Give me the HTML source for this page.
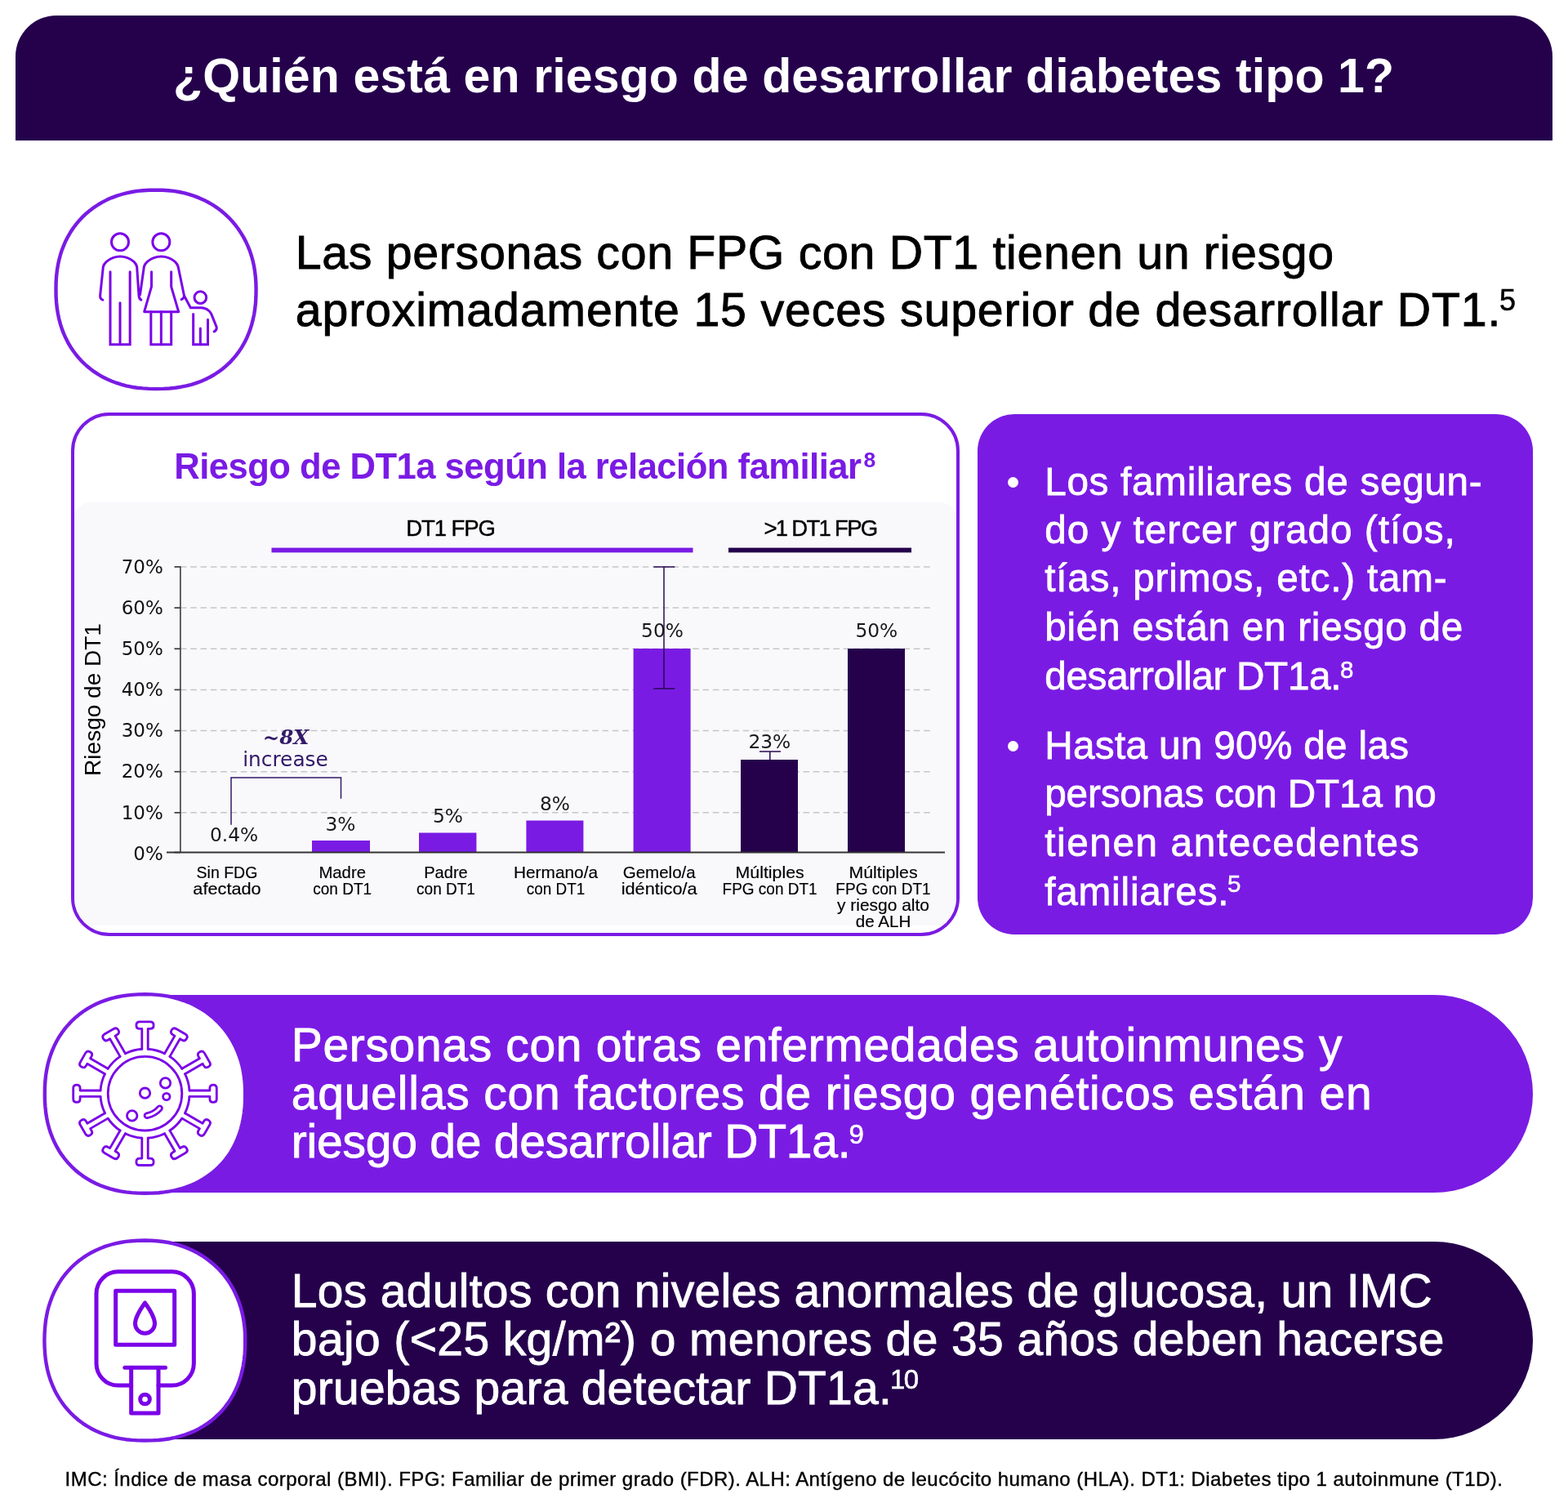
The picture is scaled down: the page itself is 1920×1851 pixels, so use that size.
<!DOCTYPE html>
<html lang="es">
<head>
<meta charset="utf-8">
<title>¿Quién está en riesgo de desarrollar diabetes tipo 1?</title>
<style>
html,body{margin:0;padding:0;background:#fff;}
body{width:1920px;height:1851px;position:relative;overflow:hidden;font-family:"Liberation Sans", Arial, Helvetica, sans-serif;}
#page{position:absolute;left:0;top:0;width:1920px;height:1851px;background:#fff;overflow:hidden;}
.abs{position:absolute;}
.t{position:absolute;white-space:pre;line-height:1;margin:0;padding:0;font-weight:400;vertical-align:baseline;display:block;}
.intro,.box,.band,.foot,.sup{-webkit-text-stroke:0.016em currentColor;}
.sup.b{-webkit-text-stroke:0;}
svg{position:absolute;left:0;top:0;overflow:visible;}
#header{position:absolute;left:19px;top:18.5px;width:1882px;height:153.5px;background:#25014c;border-radius:50px 50px 0 0;}
#chartbox{position:absolute;left:87px;top:505px;width:1088px;height:641px;box-sizing:border-box;border:4px solid #7a1be4;border-radius:47px;background:#fff;overflow:hidden;}
#chartbg{position:absolute;left:0;top:105.5px;width:1080px;height:518.5px;background:#f9f8fb;border-radius:20px 20px 0 0;}
#infobox{position:absolute;left:1196.7px;top:507.2px;width:680.3px;height:636.8px;background:#7a1be4;border-radius:45px;}
.band{position:absolute;}
#band1{left:176px;top:1218.3px;width:1700.9px;height:241.5px;background:#7a1be4;border-radius:0 121px 121px 0;position:absolute;}
#band2{left:176px;top:1519.7px;width:1700.9px;height:242px;background:#25014c;border-radius:0 121px 121px 0;position:absolute;}
.bullet{position:absolute;width:13px;height:13px;border-radius:50%;background:#fff;}
</style>
</head>
<body>
<div id="page">
<div id="header"></div>
<div id="chartbox"><div id="chartbg"></div></div>
<div id="infobox"></div>
<div id="band1"></div>
<div id="band2"></div>
<div class="bullet" style="left:1234.25px;top:584.25px"></div>
<div class="bullet" style="left:1234.25px;top:907px"></div>
<svg width="1920" height="1851" viewBox="0 0 1920 1851">
<path d="M313.6,354.3 L313.4,363.2 L313.0,370.8 L312.2,377.9 L311.2,384.6 L309.8,391.1 L308.2,397.4 L306.3,403.4 L304.1,409.2 L301.7,414.8 L298.9,420.2 L295.9,425.4 L292.6,430.4 L289.0,435.1 L285.2,439.6 L281.2,443.9 L276.9,447.9 L272.3,451.7 L267.6,455.2 L262.6,458.5 L257.4,461.5 L251.9,464.2 L246.3,466.7 L240.4,468.9 L234.3,470.8 L228.1,472.4 L221.5,473.7 L214.7,474.7 L207.6,475.5 L200.0,475.9 L191.0,476.1 L182.4,475.9 L175.0,475.4 L168.0,474.7 L161.2,473.7 L154.7,472.3 L148.5,470.7 L142.4,468.7 L136.5,466.5 L130.8,464.0 L125.4,461.3 L120.1,458.2 L115.1,454.9 L110.3,451.3 L105.7,447.5 L101.3,443.4 L97.2,439.1 L93.4,434.5 L89.8,429.7 L86.4,424.7 L83.3,419.5 L80.6,414.1 L78.0,408.4 L75.8,402.6 L73.9,396.6 L72.2,390.3 L70.9,383.9 L69.8,377.2 L69.1,370.2 L68.6,362.8 L68.5,354.3 L68.6,345.9 L69.1,338.5 L69.8,331.6 L70.9,324.9 L72.2,318.5 L73.9,312.2 L75.8,306.2 L78.1,300.4 L80.6,294.7 L83.4,289.3 L86.5,284.0 L89.8,279.0 L93.5,274.2 L97.3,269.7 L101.4,265.3 L105.8,261.2 L110.4,257.4 L115.2,253.8 L120.3,250.5 L125.6,247.4 L131.0,244.6 L136.7,242.1 L142.6,239.9 L148.7,238.0 L154.9,236.3 L161.4,235.0 L168.1,233.9 L175.1,233.2 L182.5,232.7 L191.0,232.6 L198.9,232.7 L206.0,233.2 L212.8,233.9 L219.4,235.0 L225.9,236.4 L232.1,238.1 L238.2,240.1 L244.1,242.4 L249.8,244.9 L255.3,247.8 L260.6,250.9 L265.8,254.3 L270.7,258.0 L275.3,261.9 L279.8,266.1 L284.0,270.5 L287.9,275.2 L291.6,280.0 L295.0,285.1 L298.2,290.4 L301.1,295.9 L303.7,301.6 L306.0,307.4 L308.0,313.5 L309.7,319.7 L311.1,326.1 L312.1,332.6 L312.9,339.4 L313.4,346.5Z" fill="#fff" stroke="#7a1be4" stroke-width="4.4" stroke-linejoin="round"/>
<g transform="translate(40,210) scale(0.1666667)" fill="none" stroke="#7a02e8" stroke-width="18" stroke-linecap="round" stroke-linejoin="miter">
<circle cx="642" cy="518" r="63"/>
<path d="M515,943 Q493,935 496,908 L518,700 Q522,680 542,662 Q588,624 642,624 Q698,624 744,662 Q762,680 766,700 L780,908 Q781,935 797,943"/>
<path d="M570,737 L570,1270 L715,1270 L715,737"/>
<path d="M642,964 L642,1270"/>
<circle cx="944" cy="518" r="63"/>
<path d="M789,905 L818,700 Q822,680 842,662 Q888,624 944,624 Q1000,624 1046,662 Q1064,680 1069,700 L1113,912 L1160,1000 L1238,1000 Q1288,1002 1312,1045 L1350,1140 Q1356,1166 1333,1176"/>
<path d="M1113,912 Q1112,932 1093,940"/>
<path d="M873,737 L873,845 L820,1030 L1072,1030 L1018,845 L1018,737" stroke-linejoin="round"/>
<path d="M869,1030 L869,1270 L1018,1270 L1018,1030"/>
<path d="M944,1030 L944,1270"/>
<circle cx="1232" cy="925" r="44"/>
<path d="M1180,1047 L1180,1270 L1287,1270 L1287,1087"/>
<path d="M1232,1152 L1232,1270"/>
</g>
<path d="M300.2,1339.0 L300.1,1347.9 L299.7,1355.5 L298.9,1362.6 L297.9,1369.3 L296.5,1375.8 L294.9,1382.1 L293.0,1388.1 L290.8,1393.9 L288.3,1399.5 L285.6,1404.9 L282.6,1410.1 L279.3,1415.1 L275.7,1419.8 L271.9,1424.3 L267.8,1428.6 L263.5,1432.6 L259.0,1436.4 L254.2,1439.9 L249.2,1443.2 L244.0,1446.2 L238.5,1448.9 L232.9,1451.4 L227.0,1453.6 L220.9,1455.5 L214.6,1457.1 L208.1,1458.4 L201.3,1459.4 L194.1,1460.2 L186.5,1460.6 L177.5,1460.8 L168.9,1460.6 L161.5,1460.1 L154.4,1459.4 L147.7,1458.4 L141.2,1457.0 L134.9,1455.4 L128.8,1453.4 L122.9,1451.2 L117.2,1448.7 L111.8,1446.0 L106.5,1442.9 L101.4,1439.6 L96.6,1436.0 L92.0,1432.2 L87.7,1428.1 L83.6,1423.8 L79.7,1419.2 L76.1,1414.4 L72.7,1409.4 L69.7,1404.2 L66.9,1398.8 L64.4,1393.1 L62.1,1387.3 L60.2,1381.3 L58.5,1375.0 L57.2,1368.6 L56.1,1361.9 L55.4,1354.9 L54.9,1347.5 L54.8,1339.0 L54.9,1330.6 L55.4,1323.2 L56.1,1316.3 L57.2,1309.6 L58.5,1303.2 L60.2,1296.9 L62.2,1290.9 L64.4,1285.1 L66.9,1279.4 L69.7,1274.0 L72.8,1268.7 L76.2,1263.7 L79.8,1258.9 L83.7,1254.4 L87.8,1250.0 L92.2,1245.9 L96.8,1242.1 L101.6,1238.5 L106.7,1235.2 L111.9,1232.1 L117.4,1229.3 L123.1,1226.8 L129.0,1224.6 L135.1,1222.7 L141.4,1221.0 L147.9,1219.7 L154.6,1218.6 L161.6,1217.9 L169.0,1217.4 L177.5,1217.2 L185.4,1217.4 L192.5,1217.9 L199.4,1218.6 L206.0,1219.7 L212.4,1221.1 L218.7,1222.8 L224.8,1224.8 L230.7,1227.1 L236.4,1229.6 L241.9,1232.5 L247.2,1235.6 L252.4,1239.0 L257.3,1242.7 L262.0,1246.6 L266.4,1250.8 L270.6,1255.2 L274.6,1259.9 L278.3,1264.7 L281.7,1269.8 L284.9,1275.1 L287.8,1280.6 L290.3,1286.3 L292.6,1292.1 L294.7,1298.2 L296.4,1304.4 L297.8,1310.8 L298.8,1317.3 L299.6,1324.1 L300.1,1331.2Z" fill="#fff" stroke="#7a1be4" stroke-width="4.4" stroke-linejoin="round"/>
<g transform="translate(177.5,1338.7)" fill="none" stroke="#7a02e8" stroke-width="2.8" stroke-linecap="round" stroke-linejoin="round">
<circle r="45.3"/>
<path d="M54.47,3.70 A54.6,54.6 0 0 1 49.03,24.03"/>
<path d="M45.33,30.44 A54.6,54.6 0 0 1 30.44,45.33"/>
<path d="M24.03,49.03 A54.6,54.6 0 0 1 3.70,54.47"/>
<path d="M-3.70,54.47 A54.6,54.6 0 0 1 -24.03,49.03"/>
<path d="M-30.44,45.33 A54.6,54.6 0 0 1 -45.33,30.44"/>
<path d="M-49.03,24.03 A54.6,54.6 0 0 1 -54.47,3.70"/>
<path d="M-54.47,-3.70 A54.6,54.6 0 0 1 -49.03,-24.03"/>
<path d="M-45.33,-30.44 A54.6,54.6 0 0 1 -30.44,-45.33"/>
<path d="M-24.03,-49.03 A54.6,54.6 0 0 1 -3.70,-54.47"/>
<path d="M3.70,-54.47 A54.6,54.6 0 0 1 24.03,-49.03"/>
<path d="M30.44,-45.33 A54.6,54.6 0 0 1 45.33,-30.44"/>
<path d="M49.03,-24.03 A54.6,54.6 0 0 1 54.47,-3.70"/>
<path transform="rotate(0)" d="M-3.7,-54.47 L-3.7,-79.4 L-6.5,-79.4 Q-10.6,-79.4 -10.6,-83.5 L-10.6,-83.7 Q-10.6,-87.8 -6.5,-87.8 L6.5,-87.8 Q10.6,-87.8 10.6,-83.7 L10.6,-83.5 Q10.6,-79.4 6.5,-79.4 L3.7,-79.4 L3.7,-54.47"/>
<path transform="rotate(30)" d="M-3.7,-54.47 L-3.7,-79.4 L-6.5,-79.4 Q-10.6,-79.4 -10.6,-83.5 L-10.6,-83.7 Q-10.6,-87.8 -6.5,-87.8 L6.5,-87.8 Q10.6,-87.8 10.6,-83.7 L10.6,-83.5 Q10.6,-79.4 6.5,-79.4 L3.7,-79.4 L3.7,-54.47"/>
<path transform="rotate(60)" d="M-3.7,-54.47 L-3.7,-79.4 L-6.5,-79.4 Q-10.6,-79.4 -10.6,-83.5 L-10.6,-83.7 Q-10.6,-87.8 -6.5,-87.8 L6.5,-87.8 Q10.6,-87.8 10.6,-83.7 L10.6,-83.5 Q10.6,-79.4 6.5,-79.4 L3.7,-79.4 L3.7,-54.47"/>
<path transform="rotate(90)" d="M-3.7,-54.47 L-3.7,-79.4 L-6.5,-79.4 Q-10.6,-79.4 -10.6,-83.5 L-10.6,-83.7 Q-10.6,-87.8 -6.5,-87.8 L6.5,-87.8 Q10.6,-87.8 10.6,-83.7 L10.6,-83.5 Q10.6,-79.4 6.5,-79.4 L3.7,-79.4 L3.7,-54.47"/>
<path transform="rotate(120)" d="M-3.7,-54.47 L-3.7,-79.4 L-6.5,-79.4 Q-10.6,-79.4 -10.6,-83.5 L-10.6,-83.7 Q-10.6,-87.8 -6.5,-87.8 L6.5,-87.8 Q10.6,-87.8 10.6,-83.7 L10.6,-83.5 Q10.6,-79.4 6.5,-79.4 L3.7,-79.4 L3.7,-54.47"/>
<path transform="rotate(150)" d="M-3.7,-54.47 L-3.7,-79.4 L-6.5,-79.4 Q-10.6,-79.4 -10.6,-83.5 L-10.6,-83.7 Q-10.6,-87.8 -6.5,-87.8 L6.5,-87.8 Q10.6,-87.8 10.6,-83.7 L10.6,-83.5 Q10.6,-79.4 6.5,-79.4 L3.7,-79.4 L3.7,-54.47"/>
<path transform="rotate(180)" d="M-3.7,-54.47 L-3.7,-79.4 L-6.5,-79.4 Q-10.6,-79.4 -10.6,-83.5 L-10.6,-83.7 Q-10.6,-87.8 -6.5,-87.8 L6.5,-87.8 Q10.6,-87.8 10.6,-83.7 L10.6,-83.5 Q10.6,-79.4 6.5,-79.4 L3.7,-79.4 L3.7,-54.47"/>
<path transform="rotate(210)" d="M-3.7,-54.47 L-3.7,-79.4 L-6.5,-79.4 Q-10.6,-79.4 -10.6,-83.5 L-10.6,-83.7 Q-10.6,-87.8 -6.5,-87.8 L6.5,-87.8 Q10.6,-87.8 10.6,-83.7 L10.6,-83.5 Q10.6,-79.4 6.5,-79.4 L3.7,-79.4 L3.7,-54.47"/>
<path transform="rotate(240)" d="M-3.7,-54.47 L-3.7,-79.4 L-6.5,-79.4 Q-10.6,-79.4 -10.6,-83.5 L-10.6,-83.7 Q-10.6,-87.8 -6.5,-87.8 L6.5,-87.8 Q10.6,-87.8 10.6,-83.7 L10.6,-83.5 Q10.6,-79.4 6.5,-79.4 L3.7,-79.4 L3.7,-54.47"/>
<path transform="rotate(270)" d="M-3.7,-54.47 L-3.7,-79.4 L-6.5,-79.4 Q-10.6,-79.4 -10.6,-83.5 L-10.6,-83.7 Q-10.6,-87.8 -6.5,-87.8 L6.5,-87.8 Q10.6,-87.8 10.6,-83.7 L10.6,-83.5 Q10.6,-79.4 6.5,-79.4 L3.7,-79.4 L3.7,-54.47"/>
<path transform="rotate(300)" d="M-3.7,-54.47 L-3.7,-79.4 L-6.5,-79.4 Q-10.6,-79.4 -10.6,-83.5 L-10.6,-83.7 Q-10.6,-87.8 -6.5,-87.8 L6.5,-87.8 Q10.6,-87.8 10.6,-83.7 L10.6,-83.5 Q10.6,-79.4 6.5,-79.4 L3.7,-79.4 L3.7,-54.47"/>
<path transform="rotate(330)" d="M-3.7,-54.47 L-3.7,-79.4 L-6.5,-79.4 Q-10.6,-79.4 -10.6,-83.5 L-10.6,-83.7 Q-10.6,-87.8 -6.5,-87.8 L6.5,-87.8 Q10.6,-87.8 10.6,-83.7 L10.6,-83.5 Q10.6,-79.4 6.5,-79.4 L3.7,-79.4 L3.7,-54.47"/>
<circle cx="25" cy="-12.8" r="6.2"/>
<circle cx="0" cy="-0.5" r="6.2"/>
<circle cx="26.3" cy="3.8" r="4.2"/>
<circle cx="-15.8" cy="27.2" r="6.2"/>
<path d="M2.5,27 Q12,25 18,18" stroke-width="8.6"/>
<path d="M2.5,27 Q12,25 18,18" stroke="#fff" stroke-width="3"/>
</g>
<path d="M300.2,1641.0 L300.1,1650.1 L299.7,1657.7 L298.9,1664.8 L297.9,1671.6 L296.5,1678.1 L294.9,1684.4 L293.0,1690.5 L290.8,1696.3 L288.3,1702.0 L285.6,1707.4 L282.5,1712.6 L279.2,1717.6 L275.7,1722.4 L271.9,1726.9 L267.8,1731.2 L263.5,1735.2 L258.9,1739.1 L254.1,1742.6 L249.1,1745.9 L243.9,1748.9 L238.5,1751.7 L232.8,1754.1 L226.9,1756.3 L220.8,1758.2 L214.5,1759.8 L208.0,1761.2 L201.1,1762.2 L194.0,1763.0 L186.4,1763.4 L177.4,1763.5 L168.7,1763.4 L161.3,1762.9 L154.2,1762.2 L147.5,1761.1 L141.0,1759.8 L134.7,1758.1 L128.6,1756.2 L122.7,1754.0 L117.0,1751.5 L111.5,1748.7 L106.3,1745.6 L101.2,1742.3 L96.4,1738.7 L91.8,1734.8 L87.4,1730.7 L83.3,1726.3 L79.4,1721.8 L75.8,1716.9 L72.5,1711.9 L69.4,1706.7 L66.6,1701.2 L64.1,1695.5 L61.8,1689.6 L59.9,1683.6 L58.2,1677.3 L56.9,1670.8 L55.8,1664.1 L55.1,1657.1 L54.6,1649.6 L54.4,1641.1 L54.6,1632.6 L55.1,1625.2 L55.8,1618.2 L56.9,1611.5 L58.2,1605.0 L59.9,1598.7 L61.9,1592.7 L64.1,1586.8 L66.6,1581.1 L69.5,1575.6 L72.5,1570.4 L75.9,1565.3 L79.5,1560.5 L83.4,1555.9 L87.5,1551.5 L91.9,1547.4 L96.5,1543.5 L101.4,1539.9 L106.4,1536.6 L111.7,1533.5 L117.2,1530.7 L122.9,1528.2 L128.8,1525.9 L134.9,1524.0 L141.2,1522.3 L147.7,1521.0 L154.4,1519.9 L161.4,1519.2 L168.8,1518.7 L177.3,1518.5 L185.3,1518.7 L192.4,1519.2 L199.2,1520.0 L205.9,1521.0 L212.3,1522.4 L218.6,1524.1 L224.7,1526.1 L230.6,1528.4 L236.3,1531.0 L241.8,1533.9 L247.2,1537.0 L252.3,1540.5 L257.2,1544.2 L261.9,1548.1 L266.4,1552.3 L270.6,1556.8 L274.6,1561.4 L278.3,1566.3 L281.7,1571.4 L284.9,1576.8 L287.7,1582.3 L290.3,1588.0 L292.6,1593.9 L294.6,1600.0 L296.3,1606.2 L297.7,1612.6 L298.8,1619.2 L299.6,1626.1 L300.1,1633.2Z" fill="#fff" stroke="#7a1be4" stroke-width="4.4" stroke-linejoin="round"/>
<g transform="translate(30,1495) scale(0.1666667)" fill="none" stroke="#7a02e8" stroke-width="30" stroke-linecap="round" stroke-linejoin="round">
<path d="M784,1206 L688,1206 A160,160 0 0 1 528,1046 L528,531 A160,160 0 0 1 688,371 L1084,371 A160,160 0 0 1 1244,531 L1244,1046 A160,160 0 0 1 1084,1206 L984,1206"/>
<rect x="670" y="512" width="432" height="396"/>
<path d="M885,600 C 856,640 813,700 813,752 A72,72 0 0 0 957,752 C957,700 914,640 885,600 Z"/>
<path d="M737,1075 L1035,1075"/>
<path d="M784,1075 L784,1410 L984,1410 L984,1075"/>
<circle cx="885" cy="1308" r="35"/>
</g>
</svg>
<svg width="1920" height="1851" viewBox="0 0 1920 1851" font-family="Liberation Sans, Arial, sans-serif">
<rect x="332.5" y="670.6" width="516" height="5.8" fill="#7a1be4"/>
<rect x="892" y="670.6" width="224" height="5.8" fill="#25014c"/>
<text x="551.5" y="655.8" font-size="27.5" letter-spacing="-1.1" text-anchor="middle" fill="#000" stroke="#000" stroke-width="0.4">DT1 FPG</text>
<text x="1004.5" y="655.8" font-size="27.5" letter-spacing="-1.7" text-anchor="middle" fill="#000" stroke="#000" stroke-width="0.4">&gt;1 DT1 FPG</text>
<line x1="220.9" y1="994.85" x2="1139" y2="994.85" stroke="#c6c6c6" stroke-width="1.5" stroke-dasharray="7.6 4.7"/>
<line x1="220.9" y1="944.70" x2="1139" y2="944.70" stroke="#c6c6c6" stroke-width="1.5" stroke-dasharray="7.6 4.7"/>
<line x1="220.9" y1="894.55" x2="1139" y2="894.55" stroke="#c6c6c6" stroke-width="1.5" stroke-dasharray="7.6 4.7"/>
<line x1="220.9" y1="844.40" x2="1139" y2="844.40" stroke="#c6c6c6" stroke-width="1.5" stroke-dasharray="7.6 4.7"/>
<line x1="220.9" y1="794.25" x2="1139" y2="794.25" stroke="#c6c6c6" stroke-width="1.5" stroke-dasharray="7.6 4.7"/>
<line x1="220.9" y1="744.10" x2="1139" y2="744.10" stroke="#c6c6c6" stroke-width="1.5" stroke-dasharray="7.6 4.7"/>
<line x1="220.9" y1="693.95" x2="1139" y2="693.95" stroke="#c6c6c6" stroke-width="1.5" stroke-dasharray="7.6 4.7"/>
<line x1="213.5" y1="1043.50" x2="221" y2="1043.50" stroke="#3a3a3a" stroke-width="1.7"/>
<text x="199.8" y="1052.70" font-size="23" font-family="DejaVu Sans, Verdana, sans-serif" text-anchor="end" fill="#111">0%</text>
<line x1="213.5" y1="994.85" x2="221" y2="994.85" stroke="#3a3a3a" stroke-width="1.7"/>
<text x="199.8" y="1002.55" font-size="23" font-family="DejaVu Sans, Verdana, sans-serif" text-anchor="end" fill="#111">10%</text>
<line x1="213.5" y1="944.70" x2="221" y2="944.70" stroke="#3a3a3a" stroke-width="1.7"/>
<text x="199.8" y="952.40" font-size="23" font-family="DejaVu Sans, Verdana, sans-serif" text-anchor="end" fill="#111">20%</text>
<line x1="213.5" y1="894.55" x2="221" y2="894.55" stroke="#3a3a3a" stroke-width="1.7"/>
<text x="199.8" y="902.25" font-size="23" font-family="DejaVu Sans, Verdana, sans-serif" text-anchor="end" fill="#111">30%</text>
<line x1="213.5" y1="844.40" x2="221" y2="844.40" stroke="#3a3a3a" stroke-width="1.7"/>
<text x="199.8" y="852.10" font-size="23" font-family="DejaVu Sans, Verdana, sans-serif" text-anchor="end" fill="#111">40%</text>
<line x1="213.5" y1="794.25" x2="221" y2="794.25" stroke="#3a3a3a" stroke-width="1.7"/>
<text x="199.8" y="801.95" font-size="23" font-family="DejaVu Sans, Verdana, sans-serif" text-anchor="end" fill="#111">50%</text>
<line x1="213.5" y1="744.10" x2="221" y2="744.10" stroke="#3a3a3a" stroke-width="1.7"/>
<text x="199.8" y="751.80" font-size="23" font-family="DejaVu Sans, Verdana, sans-serif" text-anchor="end" fill="#111">60%</text>
<line x1="213.5" y1="693.95" x2="221" y2="693.95" stroke="#3a3a3a" stroke-width="1.7"/>
<text x="199.8" y="701.65" font-size="23" font-family="DejaVu Sans, Verdana, sans-serif" text-anchor="end" fill="#111">70%</text>
<rect x="382" y="1029" width="71.0" height="14.4" fill="#7a1be4"/>
<rect x="513" y="1019.5" width="70.4" height="23.9" fill="#7a1be4"/>
<rect x="644.4" y="1004.5" width="70.0" height="38.9" fill="#7a1be4"/>
<rect x="775.6" y="794" width="70.0" height="249.4" fill="#7a1be4"/>
<rect x="907" y="930" width="70.0" height="113.4" fill="#25014c"/>
<rect x="1038" y="794" width="70.0" height="249.4" fill="#25014c"/>
<line x1="220.9" y1="693.2" x2="220.9" y2="1044" stroke="#3a3a3a" stroke-width="1.6"/>
<line x1="204" y1="1043.5" x2="1157" y2="1043.5" stroke="#333" stroke-width="1.9"/>
<path d="M813,694 L813,843 M800.3,694 L826.3,694 M800.3,843 L826.3,843" stroke="#2a0a52" stroke-width="1.5" fill="none"/>
<path d="M942.8,920 L942.8,930 M930,920 L956,920" stroke="#2a0a52" stroke-width="1.5" fill="none"/>
<text x="811" y="780.3" font-size="23.3" font-family="DejaVu Sans, Verdana, sans-serif" text-anchor="middle" fill="#1a1a1a">50%</text>
<text x="1073.3" y="780.3" font-size="23.3" font-family="DejaVu Sans, Verdana, sans-serif" text-anchor="middle" fill="#1a1a1a">50%</text>
<text x="942.3" y="916.4" font-size="23.3" font-family="DejaVu Sans, Verdana, sans-serif" text-anchor="middle" fill="#1a1a1a">23%</text>
<text x="679.4" y="991.5" font-size="23.3" font-family="DejaVu Sans, Verdana, sans-serif" text-anchor="middle" fill="#1a1a1a">8%</text>
<text x="548.4" y="1006.5" font-size="23.3" font-family="DejaVu Sans, Verdana, sans-serif" text-anchor="middle" fill="#1a1a1a">5%</text>
<text x="417" y="1017" font-size="23.3" font-family="DejaVu Sans, Verdana, sans-serif" text-anchor="middle" fill="#1a1a1a">3%</text>
<text x="286.5" y="1030" font-size="23.3" font-family="DejaVu Sans, Verdana, sans-serif" text-anchor="middle" fill="#1a1a1a">0.4%</text>
<text x="350" y="910.6" font-size="24.5" font-family="DejaVu Serif, Liberation Serif, serif" font-weight="700" font-style="italic" text-anchor="middle" fill="#321a68">~8X</text>
<text x="349.5" y="937.8" font-size="24.8" font-family="DejaVu Sans, Verdana, sans-serif" text-anchor="middle" fill="#321a68">increase</text>
<path d="M283,1009.7 L283,952 L417.5,952 L417.5,977.8" stroke="#321a68" stroke-width="1.5" fill="none"/>
<text transform="translate(123.3,856.5) rotate(-90)" font-size="28" text-anchor="middle" fill="#000">Riesgo de DT1</text>
<text x="278" y="1074.7" font-size="20.3" text-anchor="middle" textLength="74.8" lengthAdjust="spacingAndGlyphs" fill="#000" stroke="#000" stroke-width="0.15">Sin FDG</text>
<text x="278" y="1095.4" font-size="20.3" text-anchor="middle" textLength="83.3" lengthAdjust="spacingAndGlyphs" fill="#000" stroke="#000" stroke-width="0.15">afectado</text>
<text x="419.2" y="1074.7" font-size="20.3" text-anchor="middle" textLength="57.6" lengthAdjust="spacingAndGlyphs" fill="#000" stroke="#000" stroke-width="0.15">Madre</text>
<text x="419.2" y="1095.4" font-size="20.3" text-anchor="middle" textLength="71.8" lengthAdjust="spacingAndGlyphs" fill="#000" stroke="#000" stroke-width="0.15">con DT1</text>
<text x="546" y="1074.7" font-size="20.3" text-anchor="middle" textLength="53.6" lengthAdjust="spacingAndGlyphs" fill="#000" stroke="#000" stroke-width="0.15">Padre</text>
<text x="546" y="1095.4" font-size="20.3" text-anchor="middle" textLength="71.8" lengthAdjust="spacingAndGlyphs" fill="#000" stroke="#000" stroke-width="0.15">con DT1</text>
<text x="680.5" y="1074.7" font-size="20.3" text-anchor="middle" textLength="103.0" lengthAdjust="spacingAndGlyphs" fill="#000" stroke="#000" stroke-width="0.15">Hermano/a</text>
<text x="680.5" y="1095.4" font-size="20.3" text-anchor="middle" textLength="71.4" lengthAdjust="spacingAndGlyphs" fill="#000" stroke="#000" stroke-width="0.15">con DT1</text>
<text x="807.2" y="1074.7" font-size="20.3" text-anchor="middle" textLength="89.0" lengthAdjust="spacingAndGlyphs" fill="#000" stroke="#000" stroke-width="0.15">Gemelo/a</text>
<text x="807.2" y="1095.4" font-size="20.3" text-anchor="middle" textLength="93.0" lengthAdjust="spacingAndGlyphs" fill="#000" stroke="#000" stroke-width="0.15">idéntico/a</text>
<text x="942.6" y="1074.7" font-size="20.3" text-anchor="middle" textLength="84.2" lengthAdjust="spacingAndGlyphs" fill="#000" stroke="#000" stroke-width="0.15">Múltiples</text>
<text x="942.6" y="1095.4" font-size="20.3" text-anchor="middle" textLength="116.0" lengthAdjust="spacingAndGlyphs" fill="#000" stroke="#000" stroke-width="0.15">FPG con DT1</text>
<text x="1081.5" y="1074.7" font-size="20.3" text-anchor="middle" textLength="84.2" lengthAdjust="spacingAndGlyphs" fill="#000" stroke="#000" stroke-width="0.15">Múltiples</text>
<text x="1081.5" y="1095.4" font-size="20.3" text-anchor="middle" textLength="116.4" lengthAdjust="spacingAndGlyphs" fill="#000" stroke="#000" stroke-width="0.15">FPG con DT1</text>
<text x="1081.5" y="1115.2" font-size="20.3" text-anchor="middle" textLength="113.0" lengthAdjust="spacingAndGlyphs" fill="#000" stroke="#000" stroke-width="0.15">y riesgo alto</text>
<text x="1081.5" y="1134.8" font-size="20.3" text-anchor="middle" textLength="67.6" lengthAdjust="spacingAndGlyphs" fill="#000" stroke="#000" stroke-width="0.15">de ALH</text>
</svg>
<h1 class="t title" style="left:212.00px;top:63.81px;font-size:59px;letter-spacing:0.125px;font-weight:700;color:#fff;">¿Quién está en riesgo de desarrollar diabetes tipo 1?</h1>
<p class="t intro" style="left:361.80px;top:281.40px;font-size:57.3px;letter-spacing:0.665px;color:#000;">Las personas con FPG con DT1 tienen un riesgo</p>
<p class="t intro" style="left:361.80px;top:350.80px;font-size:57.3px;letter-spacing:0.817px;color:#000;">aproximadamente 15 veces superior de desarrollar DT1.</p>
<h2 class="t ctitle" style="left:213.20px;top:549.89px;font-size:43.6px;letter-spacing:-0.518px;font-weight:700;color:#7a1be4;">Riesgo de DT1a según la relación familiar</h2>
<p class="t box" style="left:1279.20px;top:566.22px;font-size:47.7px;letter-spacing:0.693px;color:#fff;">Los familiares de segun-</p>
<p class="t box" style="left:1279.20px;top:624.82px;font-size:47.7px;letter-spacing:0.996px;color:#fff;">do y tercer grado (tíos,</p>
<p class="t box" style="left:1279.20px;top:683.92px;font-size:47.7px;letter-spacing:0.789px;color:#fff;">tías, primos, etc.) tam-</p>
<p class="t box" style="left:1279.20px;top:743.82px;font-size:47.7px;letter-spacing:0.742px;color:#fff;">bién están en riesgo de</p>
<p class="t box" style="left:1279.20px;top:803.72px;font-size:47.7px;letter-spacing:-0.315px;color:#fff;">desarrollar DT1a.</p>
<p class="t box" style="left:1279.20px;top:889.32px;font-size:47.7px;letter-spacing:0.321px;color:#fff;">Hasta un 90% de las</p>
<p class="t box" style="left:1279.20px;top:948.42px;font-size:47.7px;letter-spacing:-0.150px;color:#fff;">personas con DT1a no</p>
<p class="t box" style="left:1279.20px;top:1007.82px;font-size:47.7px;letter-spacing:1.600px;color:#fff;">tienen antecedentes</p>
<p class="t box" style="left:1279.20px;top:1067.72px;font-size:47.7px;letter-spacing:0.805px;color:#fff;">familiares.</p>
<p class="t band" style="left:356.80px;top:1251.15px;font-size:57px;letter-spacing:0.654px;color:#fff;">Personas con otras enfermedades autoinmunes y</p>
<p class="t band" style="left:356.80px;top:1310.35px;font-size:57px;letter-spacing:0.807px;color:#fff;">aquellas con factores de riesgo genéticos están en</p>
<p class="t band" style="left:356.80px;top:1369.45px;font-size:57px;letter-spacing:-0.228px;color:#fff;">riesgo de desarrollar DT1a.</p>
<p class="t band" style="left:356.80px;top:1552.15px;font-size:57px;letter-spacing:0.304px;color:#fff;">Los adultos con niveles anormales de glucosa, un IMC</p>
<p class="t band" style="left:356.80px;top:1611.45px;font-size:57px;letter-spacing:0.380px;color:#fff;">bajo (&lt;25 kg/m²) o menores de 35 años deben hacerse</p>
<p class="t band" style="left:356.80px;top:1670.75px;font-size:57px;letter-spacing:0.241px;color:#fff;">pruebas para detectar DT1a.</p>
<p class="t foot" style="left:79.60px;top:1798.68px;font-size:24px;letter-spacing:0.457px;color:#000;">IMC: Índice de masa corporal (BMI). FPG: Familiar de primer grado (FDR). ALH: Antígeno de leucócito humano (HLA). DT1: Diabetes tipo 1 autoinmune (T1D).</p>

<sup class="t sup" style="left:1836px;top:350.03px;font-size:36px;color:#000;">5</sup>
<sup class="t sup b" style="left:1057.5px;top:549.57px;font-size:26.5px;color:#7a1be4;font-weight:700;">8</sup>
<sup class="t sup" style="left:1641px;top:805.03px;font-size:29.5px;color:#fff;">8</sup>
<sup class="t sup" style="left:1503px;top:1067.03px;font-size:29.5px;color:#fff;">5</sup>
<sup class="t sup" style="left:1039.5px;top:1371.57px;font-size:33px;color:#fff;">9</sup>
<sup class="t sup" style="left:1090px;top:1672.07px;font-size:33px;color:#fff;letter-spacing:-1.6px;">10</sup>

</div>
</body>
</html>
